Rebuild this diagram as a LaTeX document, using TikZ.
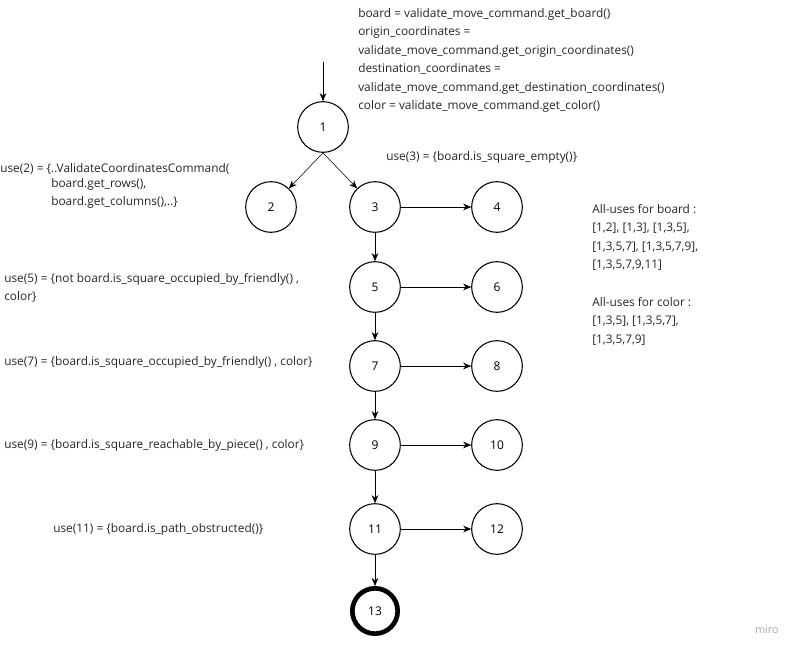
\documentclass[tikz,border=0pt]{standalone}
\usepackage{fontspec}
\setmainfont{Open Sans}
\usetikzlibrary{arrows.meta}
\begin{document}
\begin{tikzpicture}[x=0.75pt,y=-0.75pt,
  st/.style={circle,draw,thick,minimum size=38pt,inner sep=0pt,font=\fontsize{9}{11}\selectfont},
  fin/.style={st,line width=3.5pt,minimum size=34pt},
  ar/.style={-{Stealth[length=6pt,width=5pt]},thin},
  tx/.style={anchor=west,inner sep=0pt,font=\fontsize{8.9}{13.9}\selectfont,align=left,text=black!85}]
\useasboundingbox (0,0) rectangle (799,652);
\node[st] (n1) at (323,127) {1};
\node[st] (n2) at (271,207) {2};
\node[st] (n3) at (375,207) {3};
\node[st] (n4) at (497,207) {4};
\node[st] (n5) at (375,287) {5};
\node[st] (n6) at (497,287) {6};
\node[st] (n7) at (375,366) {7};
\node[st] (n8) at (497,366) {8};
\node[st] (n9) at (375,445) {9};
\node[st] (n10) at (497,445) {10};
\node[st] (n11) at (375,529) {11};
\node[st] (n12) at (497,529) {12};
\node[fin] (n13) at (375,611) {13};
\coordinate (s) at (323,62);
\draw[ar] (s) -- (n1);
\draw[ar] (n1.south) -- (n2);
\draw[ar] (n1.south) -- (n3);
\foreach \a/\b in {n3/n4,n3/n5,n5/n6,n5/n7,n7/n8,n7/n9,n9/n10,n9/n11,n11/n12,n11/n13}
  \draw[ar] (\a) -- (\b);
\node[tx,anchor=north west] (t1) at (358,8) {board = validate\_move\_command.get\_board()\\origin\_coordinates =\\validate\_move\_command.get\_origin\_coordinates()\\destination\_coordinates =\\validate\_move\_command.get\_destination\_coordinates()\\color = validate\_move\_command.get\_color()};
\node[tx] (u2) at (0,169) {use(2) = \{..ValidateCoordinatesCommand(};
\node[tx,anchor=north west] (u2b) at (51,178) {board.get\_rows(),\\board.get\_columns(),..\}};
\node[tx] (u3) at (386,157) {use(3) = \{board.is\_square\_empty()\}};
\node[tx,anchor=north west] (al) at (592,204) {All-uses for board :\\{}[1,2], [1,3], [1,3,5],\\{}[1,3,5,7], [1,3,5,7,9],\\{}[1,3,5,7,9,11]\\[13.9pt]All-uses for color :\\{}[1,3,5], [1,3,5,7],\\{}[1,3,5,7,9]};
\node[tx,anchor=north west] (u5) at (4,273) {use(5) = \{not board.is\_square\_occupied\_by\_friendly() ,\\color\}};
\node[tx] (u7) at (4,362) {use(7) = \{board.is\_square\_occupied\_by\_friendly() , color\}};
\node[tx] (u9) at (4,445) {use(9) = \{board.is\_square\_reachable\_by\_piece() , color\}};
\node[tx] (u11) at (53,529) {use(11) = \{board.is\_path\_obstructed()\}};
\node[tx,text=black!35,font=\fontsize{8}{10}\selectfont] (m) at (755,630) {miro};
\end{tikzpicture}
\end{document}
